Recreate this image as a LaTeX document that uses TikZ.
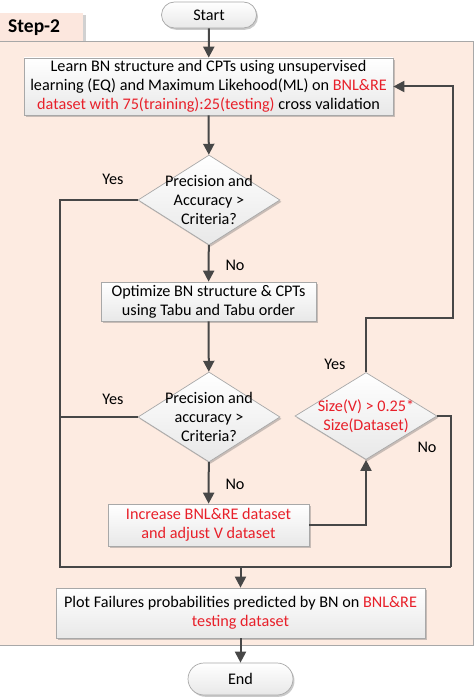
\documentclass[tikz,border=0pt]{standalone}
\usepackage{fontspec}
\setmainfont{Carlito}
\usetikzlibrary{arrows.meta,shapes.geometric,shadows,calc}
\definecolor{panel}{HTML}{FDEBE1}
\definecolor{tabfill}{HTML}{FCE7DE}
\definecolor{ln}{HTML}{474747}
\definecolor{bd}{HTML}{A8A8A8}
\definecolor{rd}{HTML}{E8202A}
\begin{document}
\begin{tikzpicture}[x=1pt,y=-1pt,
  font=\fontsize{16.2}{19}\selectfont,
  boxsh/.style={drop shadow={shadow xshift=1.5pt,shadow yshift=-1.8pt,opacity=.35,fill=black!60}},
  pbox/.style={draw=bd,line width=.7pt,top color=white,bottom color=black!9,boxsh,
    align=center,inner sep=0pt},
  term/.style={pbox,rounded corners=13pt},
  dia/.style={diamond,draw=bd,line width=.7pt,top color=white,bottom color=black!9,boxsh,
    inner sep=0pt,minimum width=142pt,minimum height=90pt},
  dtext/.style={align=center,inner sep=0pt},
  conn/.style={draw=ln,line width=2pt},
  arr/.style={conn,-{Triangle[length=11pt,width=11pt]}},
  lbl/.style={inner sep=0pt}]
\useasboundingbox (0,0) rectangle (474,700);
% panel and tab
\fill[panel] (0,41) rectangle (473,645);
\draw[bd,line width=.7pt] (0,41) -- (473,41) -- (473,645) -- (0,645);
\fill[black!18] (83,15) rectangle (86,41);
\fill[tabfill] (0,13) rectangle (83,41);
\node[lbl,anchor=west,font=\fontsize{19.5}{22}\selectfont\bfseries] (step) at (8,27.5) {Step-2};
% nodes
\node[term,minimum width=95pt,minimum height=26pt] (start) at (209,15) {Start};
\node[pbox,minimum width=369pt,minimum height=57pt] (b1) at (208.5,86.5)
  {Learn BN structure and CPTs using unsupervised\\
   learning (EQ) and Maximum Likehood(ML) on \textcolor{rd}{BNL\&RE}\\
   \textcolor{rd}{dataset with 75(training):25(testing)} cross validation};
\node[dia] (d1) at (209,200) {};
\node[dtext] (t1) at (d1) {Precision and\\Accuracy >\\Criteria?};
\node[pbox,minimum width=215pt,minimum height=39pt] (b2) at (208.5,301.5)
  {Optimize BN structure \& CPTs\\using Tabu and Tabu order};
\node[dia] (d2) at (209,417) {};
\node[dtext] (t2) at (d2) {Precision and\\accuracy >\\Criteria?};
\node[pbox,minimum width=201pt,minimum height=42pt,text=rd] (b3) at (208.5,525)
  {Increase BNL\&RE dataset\\and adjust V dataset};
\node[dia,minimum height=87pt] (d3) at (366,416) {};
\node[dtext,text=rd] (t3) at (d3) {Size(V) > 0.25*\\Size(Dataset)};
\node[pbox,minimum width=369pt,minimum height=50pt] (b4) at (240.5,613)
  {Plot Failures probabilities predicted by BN on \textcolor{rd}{BNL\&RE}\\
   \textcolor{rd}{testing dataset}};
\node[term,minimum width=105pt,minimum height=32pt,rounded corners=16pt] (end) at (240.5,679) {End};
% helper coordinates
\coordinate (bl) at (60,567);
\coordinate (br) at (451,567);
\coordinate (bm) at (240.5,567);
\coordinate (lp) at (453,318);
% connectors
\draw[arr] (start) -- (b1);
\draw[arr] (b1) -- (d1);
\draw[arr] (d1) -- (b2);
\draw[arr] (b2) -- (d2);
\draw[arr] (d2) -- (b3);
\draw[arr] (b3.east) -| (d3.south);
\draw[arr] (d3.north) |- (lp) |- (b1.east);
\draw[conn] (d1.west) -| (bl) -- (br);
\draw[conn] (d2.west) -- (d2.west -| bl);
\draw[conn] (d3.east) -| (br);
\draw[arr] (bm) -- (b4);
\draw[arr] (b4) -- (end);
% labels
\node[lbl] (y1) at (113,179) {Yes};
\node[lbl] (n1) at (235,265) {No};
\node[lbl] (y2) at (113,399) {Yes};
\node[lbl] (n2) at (235,484) {No};
\node[lbl] (y3) at (335,364) {Yes};
\node[lbl] (n3) at (427,447) {No};
\end{tikzpicture}
\end{document}
